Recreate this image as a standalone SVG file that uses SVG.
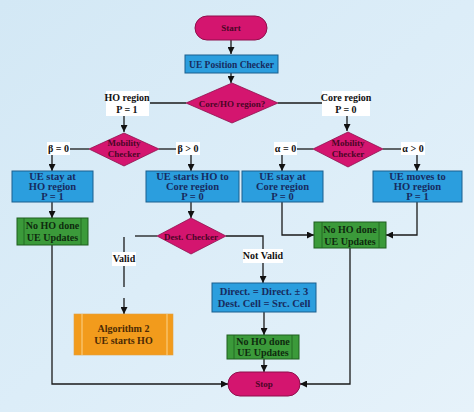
<svg xmlns="http://www.w3.org/2000/svg" width="474" height="412" viewBox="0 0 474 412">
<defs>
<linearGradient id="bg" x1="0" y1="0" x2="1" y2="1">
<stop offset="0" stop-color="#d3e8f5"/>
<stop offset="0.5" stop-color="#dcedf8"/>
<stop offset="1" stop-color="#e6f2fa"/>
</linearGradient>
<marker id="ah" viewBox="0 0 10 10" refX="10" refY="5" markerWidth="7" markerHeight="7" markerUnits="userSpaceOnUse" orient="auto">
<path d="M0,0 L10,5 L0,10 z" fill="#111"/>
</marker>
</defs>
<style>
text{font-family:"Liberation Serif","Times New Roman",serif;font-weight:bold;text-anchor:middle}
.term{fill:#d4156f;stroke:#8e0f4c;stroke-width:1}
.dia{fill:#d4156f;stroke:#8e0f4c;stroke-width:0.8}
.blue{fill:#2b9ede;stroke:#1a5f8e;stroke-width:1}
.green{fill:#3b9a3a;stroke:#1f5f1f;stroke-width:1}
.orange{fill:#f29b1c;stroke:#e0a040;stroke-width:0.6}
.inner{stroke:#1f5f1f;stroke-width:0.8;fill:none}
.innero{stroke:#fbd38a;stroke-width:1;fill:none}
.tm{fill:#4a0626;font-size:9px}
.tb{fill:#172b5e;font-size:10.5px}
.tg{fill:#0e2a0e;font-size:10px}
.to{fill:#4a2a05;font-size:10px}
.tl{fill:#111;font-size:10px}
.lb{fill:#ffffff}
.c line,.c polyline{stroke:#1a1a1a;stroke-width:1.3;fill:none}
</style>
<rect x="0" y="0" width="474" height="412" fill="url(#bg)"/>

<g class="c" id="connectors">
<line x1="231" y1="40" x2="231" y2="54" marker-end="url(#ah)"/>
<line x1="231" y1="73" x2="231" y2="83" marker-end="url(#ah)"/>
<line x1="186" y1="103" x2="150" y2="103"/>
<line x1="278" y1="103" x2="322" y2="103"/>
<line x1="124" y1="116" x2="124" y2="132" marker-end="url(#ah)"/>
<line x1="347" y1="116" x2="347" y2="131" marker-end="url(#ah)"/>
<line x1="89" y1="149" x2="70" y2="149"/>
<line x1="159" y1="149" x2="176" y2="149"/>
<line x1="313" y1="149" x2="297" y2="149"/>
<line x1="383" y1="149" x2="401" y2="149"/>
<line x1="52" y1="155" x2="52" y2="171" marker-end="url(#ah)"/>
<line x1="191" y1="155" x2="191" y2="171" marker-end="url(#ah)"/>
<line x1="282" y1="155" x2="282" y2="171" marker-end="url(#ah)"/>
<line x1="417" y1="155" x2="417" y2="171" marker-end="url(#ah)"/>
<line x1="52" y1="202" x2="52" y2="218" marker-end="url(#ah)"/>
<line x1="191" y1="202" x2="191" y2="218" marker-end="url(#ah)"/>
<polyline points="282,202 282,235 314,235" marker-end="url(#ah)"/>
<polyline points="417,202 417,235 386,235" marker-end="url(#ah)"/>
<line x1="157" y1="236" x2="135" y2="236"/>
<line x1="124" y1="237" x2="124" y2="287"/>
<line x1="124" y1="298" x2="124" y2="314" marker-end="url(#ah)"/>
<polyline points="226,236 263,236 263,283" marker-end="url(#ah)"/>
<line x1="264" y1="312" x2="264" y2="335" marker-end="url(#ah)"/>
<line x1="264" y1="359" x2="264" y2="372" marker-end="url(#ah)"/>
<polyline points="52,245 52,384 228,384" marker-end="url(#ah)"/>
<polyline points="350,248 350,384 300,384" marker-end="url(#ah)"/>
</g>

<g id="label-ho">
<rect class="lb" x="106" y="91" width="43" height="25"/>
<text class="tl" x="127" y="101">HO region</text>
<text class="tl" x="127" y="113">P = 1</text>
</g>
<g id="label-core">
<rect class="lb" x="322" y="91" width="48" height="25"/>
<text class="tl" x="346" y="101">Core region</text>
<text class="tl" x="346" y="113">P = 0</text>
</g>
<g id="label-b0"><rect class="lb" x="47" y="142" width="23" height="13"/><text class="tl" x="58.5" y="152">β = 0</text></g>
<g id="label-b1"><rect class="lb" x="176" y="142" width="24" height="13"/><text class="tl" x="188" y="152">β &gt; 0</text></g>
<g id="label-a0"><rect class="lb" x="274" y="142" width="23" height="13"/><text class="tl" x="285.5" y="152">α = 0</text></g>
<g id="label-a1"><rect class="lb" x="401" y="142" width="24" height="13"/><text class="tl" x="413" y="152">α &gt; 0</text></g>
<g id="label-valid"><rect class="lb" x="112" y="252" width="24" height="14"/><text class="tl" x="124" y="262">Valid</text></g>
<g id="label-notvalid"><rect class="lb" x="243" y="249" width="40" height="14"/><text class="tl" x="263" y="259">Not Valid</text></g>

<g id="start">
<rect class="term" x="195" y="16" width="72" height="24" rx="12"/>
<text class="tm" x="231" y="31">Start</text>
</g>
<g id="pos-checker">
<rect class="blue" x="185" y="55" width="93" height="18"/>
<text class="tb" x="231.5" y="67.5" style="font-size:9.5px">UE Position Checker</text>
</g>
<g id="core-ho">
<polygon class="dia" points="232,83 278,103 232,123 186,103"/>
<text class="tm" x="232" y="106.5">Core/HO region?</text>
</g>
<g id="mob-left">
<polygon class="dia" points="124,133 159,149 124,166 89,149"/>
<text class="tm" x="124" y="146">Mobility</text>
<text class="tm" x="124" y="157">Checker</text>
</g>
<g id="mob-right">
<polygon class="dia" points="348,132 383,149 348,167 313,149"/>
<text class="tm" x="348" y="146">Mobility</text>
<text class="tm" x="348" y="157">Checker</text>
</g>
<g id="stay-ho">
<rect class="blue" x="12" y="171" width="81" height="31"/>
<text class="tb" x="52.5" y="180">UE stay at</text>
<text class="tb" x="52.5" y="190">HO region</text>
<text class="tb" x="52.5" y="200">P = 1</text>
</g>
<g id="starts-ho">
<rect class="blue" x="146" y="171" width="93" height="31"/>
<text class="tb" x="192.5" y="180">UE starts HO to</text>
<text class="tb" x="192.5" y="190">Core region</text>
<text class="tb" x="192.5" y="200">P = 0</text>
</g>
<g id="stay-core">
<rect class="blue" x="242" y="171" width="81" height="31"/>
<text class="tb" x="282.5" y="180">UE stay at</text>
<text class="tb" x="282.5" y="190">Core region</text>
<text class="tb" x="282.5" y="200">P = 0</text>
</g>
<g id="moves-ho">
<rect class="blue" x="373" y="171" width="89" height="31"/>
<text class="tb" x="417.5" y="180">UE moves to</text>
<text class="tb" x="417.5" y="190">HO region</text>
<text class="tb" x="417.5" y="200">P = 1</text>
</g>
<g id="noho-left">
<rect class="green" x="17" y="218" width="71" height="27"/>
<line class="inner" x1="24" y1="218" x2="24" y2="245"/>
<line class="inner" x1="81" y1="218" x2="81" y2="245"/>
<text class="tg" x="52.5" y="229">No HO done</text>
<text class="tg" x="52.5" y="240.5">UE Updates</text>
</g>
<g id="noho-right">
<rect class="green" x="314" y="222" width="72" height="26"/>
<line class="inner" x1="322" y1="222" x2="322" y2="248"/>
<line class="inner" x1="379" y1="222" x2="379" y2="248"/>
<text class="tg" x="350" y="233">No HO done</text>
<text class="tg" x="350" y="244.5">UE Updates</text>
</g>
<g id="dest-checker">
<polygon class="dia" points="191,218 226,236 191,254 157,236"/>
<text class="tm" x="191" y="239.5">Dest. Checker</text>
</g>
<g id="direct">
<rect class="blue" x="212" y="283" width="104" height="29"/>
<text class="tb" x="264" y="295">Direct. = Direct. ± 3</text>
<text class="tb" x="264" y="306.5">Dest. Cell = Src. Cell</text>
</g>
<g id="algorithm2">
<rect class="orange" x="74" y="314" width="99" height="41"/>
<line class="innero" x1="82" y1="314" x2="82" y2="355"/>
<line class="innero" x1="167" y1="314" x2="167" y2="355"/>
<text class="to" x="123.5" y="332">Algorithm 2</text>
<text class="to" x="123.5" y="343.5">UE starts HO</text>
</g>
<g id="noho-bottom">
<rect class="green" x="227" y="335" width="72" height="24"/>
<line class="inner" x1="234" y1="335" x2="234" y2="359"/>
<line class="inner" x1="292" y1="335" x2="292" y2="359"/>
<text class="tg" x="263" y="345">No HO done</text>
<text class="tg" x="263" y="356">UE Updates</text>
</g>
<g id="stop">
<rect class="term" x="228" y="372" width="72" height="24" rx="12"/>
<text class="tm" x="264" y="387">Stop</text>
</g>
</svg>
